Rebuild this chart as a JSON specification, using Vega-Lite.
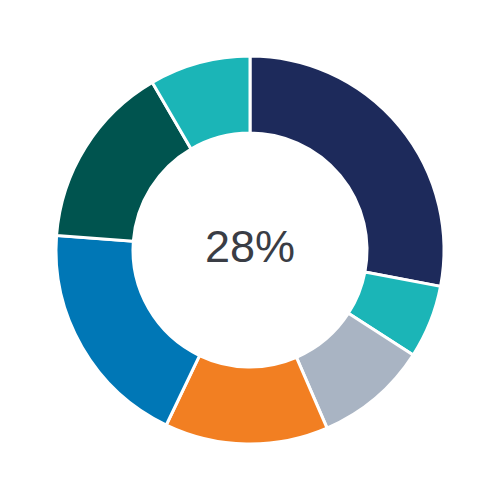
{
  "$schema": "https://vega.github.io/schema/vega-lite/v6.json",
  "width": 500,
  "height": 500,
  "autosize": {"type": "fit", "contains": "padding"},
  "padding": 0,
  "background": "white",
  "view": {"stroke": null},
  "layer": [
    {
      "data": {
        "values": [
          {"segment": "A", "order": 1, "share": 28},
          {"segment": "B", "order": 2, "share": 6.1},
          {"segment": "C", "order": 3, "share": 9.4},
          {"segment": "D", "order": 4, "share": 13.6},
          {"segment": "E", "order": 5, "share": 19.1},
          {"segment": "F", "order": 6, "share": 15.4},
          {"segment": "G", "order": 7, "share": 8.4}
        ]
      },
      "mark": {"type": "arc", "outerRadius": 194, "innerRadius": 117, "stroke": "white", "strokeWidth": 3},
      "encoding": {
        "theta": {"field": "share", "type": "quantitative", "stack": true},
        "order": {"field": "order", "type": "quantitative"},
        "color": {
          "field": "segment",
          "type": "nominal",
          "scale": {
            "domain": ["A", "B", "C", "D", "E", "F", "G"],
            "range": ["#1d2a5b", "#1bb5b7", "#a9b4c3", "#f27f22", "#0077b6", "#00544f", "#1bb5b7"]
          },
          "legend": null
        }
      }
    },
    {
      "data": {"values": [{"label": "28%"}]},
      "mark": {"type": "text", "fontSize": 45, "font": "Liberation Sans", "color": "#3a3d45", "baseline": "middle", "align": "center", "dy": -2},
      "encoding": {"text": {"field": "label"}}
    }
  ]
}
